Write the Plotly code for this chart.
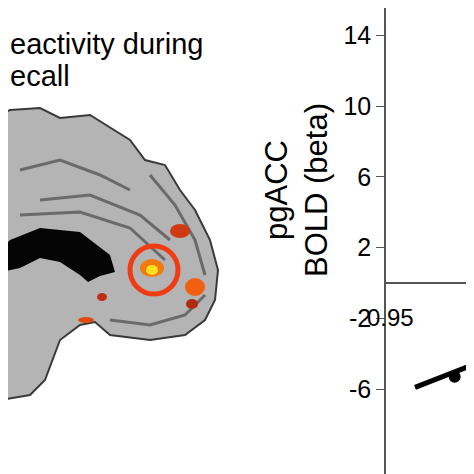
import plotly.graph_objects as go

# right panel data
y_ticks = [-6, -2, 2, 6, 10, 14]
y_tick_labels = ["-6", "-2", "2", "6", "10", "14"]
fit_x = [0.9665, 1.0]
fit_y = [-5.9, -4.6]
pt_x = [0.989]
pt_y = [-5.3]

# left panel: brain image outline, in pixel coordinates
brain_x = [0, 10, 40, 60, 90, 130, 145, 165, 180, 195, 210, 218, 215, 205, 185, 150, 110, 95, 80, 60, 45, 30, 0]
brain_y = [115, 110, 108, 118, 115, 140, 160, 165, 190, 210, 240, 270, 300, 320, 335, 340, 335, 322, 325, 340, 380, 395, 400]
vent_x = [0, 10, 40, 80, 110, 115, 100, 88, 80, 60, 40, 20, 0]
vent_y = [250, 240, 228, 232, 255, 272, 276, 282, 275, 262, 258, 268, 272]
blobs = [  # cx, cy, rx, ry, colour
    (180, 231, 10, 7, "#d03a10"),
    (195, 287, 10, 9, "#f06010"),
    (192, 304, 6, 5, "#b02a10"),
    (102, 297, 5, 4, "#c03010"),
    (86, 320, 8, 3, "#e04a10"),
    (152, 268, 12, 9, "#f07a10"),
    (152, 270, 6, 5, "#ffe020"),
]
sulci = [
    [(20, 170), (60, 160), (100, 175), (130, 190)],
    [(40, 200), (90, 195), (140, 215), (170, 240)],
    [(20, 215), (80, 212), (130, 228), (165, 260)],
    [(150, 175), (175, 205), (195, 240), (205, 275)],
    [(110, 320), (150, 325), (185, 315), (205, 295)],
]

# page renders with ~8px offset; shift everything to compensate
OFF = 8

fig = go.Figure()
fig.add_trace(go.Scatter(x=fit_x, y=fit_y, mode="lines", line=dict(color="black", width=5),
                         xaxis="x2", yaxis="y2", showlegend=False))
fig.add_trace(go.Scatter(x=pt_x, y=pt_y, mode="markers", marker=dict(color="black", size=12),
                         xaxis="x2", yaxis="y2", showlegend=False))

def path(xs, ys):
    return "M " + " L ".join(f"{a},{b}" for a, b in zip(xs, ys)) + " Z"

shapes = [dict(type="path", path=path(brain_x, brain_y), xref="x", yref="y",
               fillcolor="#b4b4b4", line=dict(color="#3a3a3a", width=2), layer="below"),
          dict(type="path", path=path(vent_x, vent_y), xref="x", yref="y",
               fillcolor="#050505", line=dict(width=0), layer="below")]
for s in sulci:
    shapes.append(dict(type="path", path="M " + " L ".join(f"{a},{b}" for a, b in s),
                       xref="x", yref="y", line=dict(color="#6a6a6a", width=3), layer="below"))
for cx, cy, rx, ry, c in blobs:
    shapes.append(dict(type="circle", xref="x", yref="y", x0=cx - rx, x1=cx + rx, y0=cy - ry, y1=cy + ry,
                       fillcolor=c, line=dict(width=0)))
shapes.append(dict(type="circle", xref="x", yref="y", x0=130, x1=178, y0=246, y1=294,
                   line=dict(color="#f03c14", width=5)))

px_per_unit = 17.7
fig.update_layout(
    width=474, height=474, margin=dict(l=0, r=0, t=0, b=0),
    plot_bgcolor="white", paper_bgcolor="white",
    font=dict(family="Liberation Sans, Arial", color="black"),
    xaxis=dict(range=[OFF, 474 + OFF], domain=[0, 1], visible=False),
    yaxis=dict(range=[474 + OFF, OFF], domain=[0, 1], visible=False),
    xaxis2=dict(range=[0.95, 1.0 + OFF / 1760], domain=[(386 - OFF) / 474, 1], anchor="y2",
                showticklabels=False, showgrid=False, zeroline=False, showline=False, ticks=""),
    yaxis2=dict(range=[-(474 + OFF - 283) / px_per_unit, (283 - OFF) / px_per_unit], domain=[0, 1],
                anchor="x2", tickvals=y_ticks, ticktext=y_tick_labels,
                ticks="outside", ticklen=8, tickcolor="#555", showline=True, linecolor="#555",
                linewidth=1.5, showgrid=False, zeroline=True, zerolinecolor="#555",
                zerolinewidth=1.5, tickfont=dict(size=25)),
    shapes=shapes,
    annotations=[
        dict(text="eactivity during", x=OFF, y=44, xref="x", yref="y", xanchor="left",
             showarrow=False, font=dict(size=29)),
        dict(text="ecall", x=OFF, y=76, xref="x", yref="y", xanchor="left",
             showarrow=False, font=dict(size=29)),
        dict(text="pgACC<br>BOLD (beta)", x=296, y=190, xref="x", yref="y", textangle=-90,
             showarrow=False, font=dict(size=31)),
        dict(text="0.95", x=0.9525, y=-1.1, xref="x2", yref="y2", yanchor="top",
             showarrow=False, font=dict(size=24)),
    ],
)
fig.write_html("out.html")
